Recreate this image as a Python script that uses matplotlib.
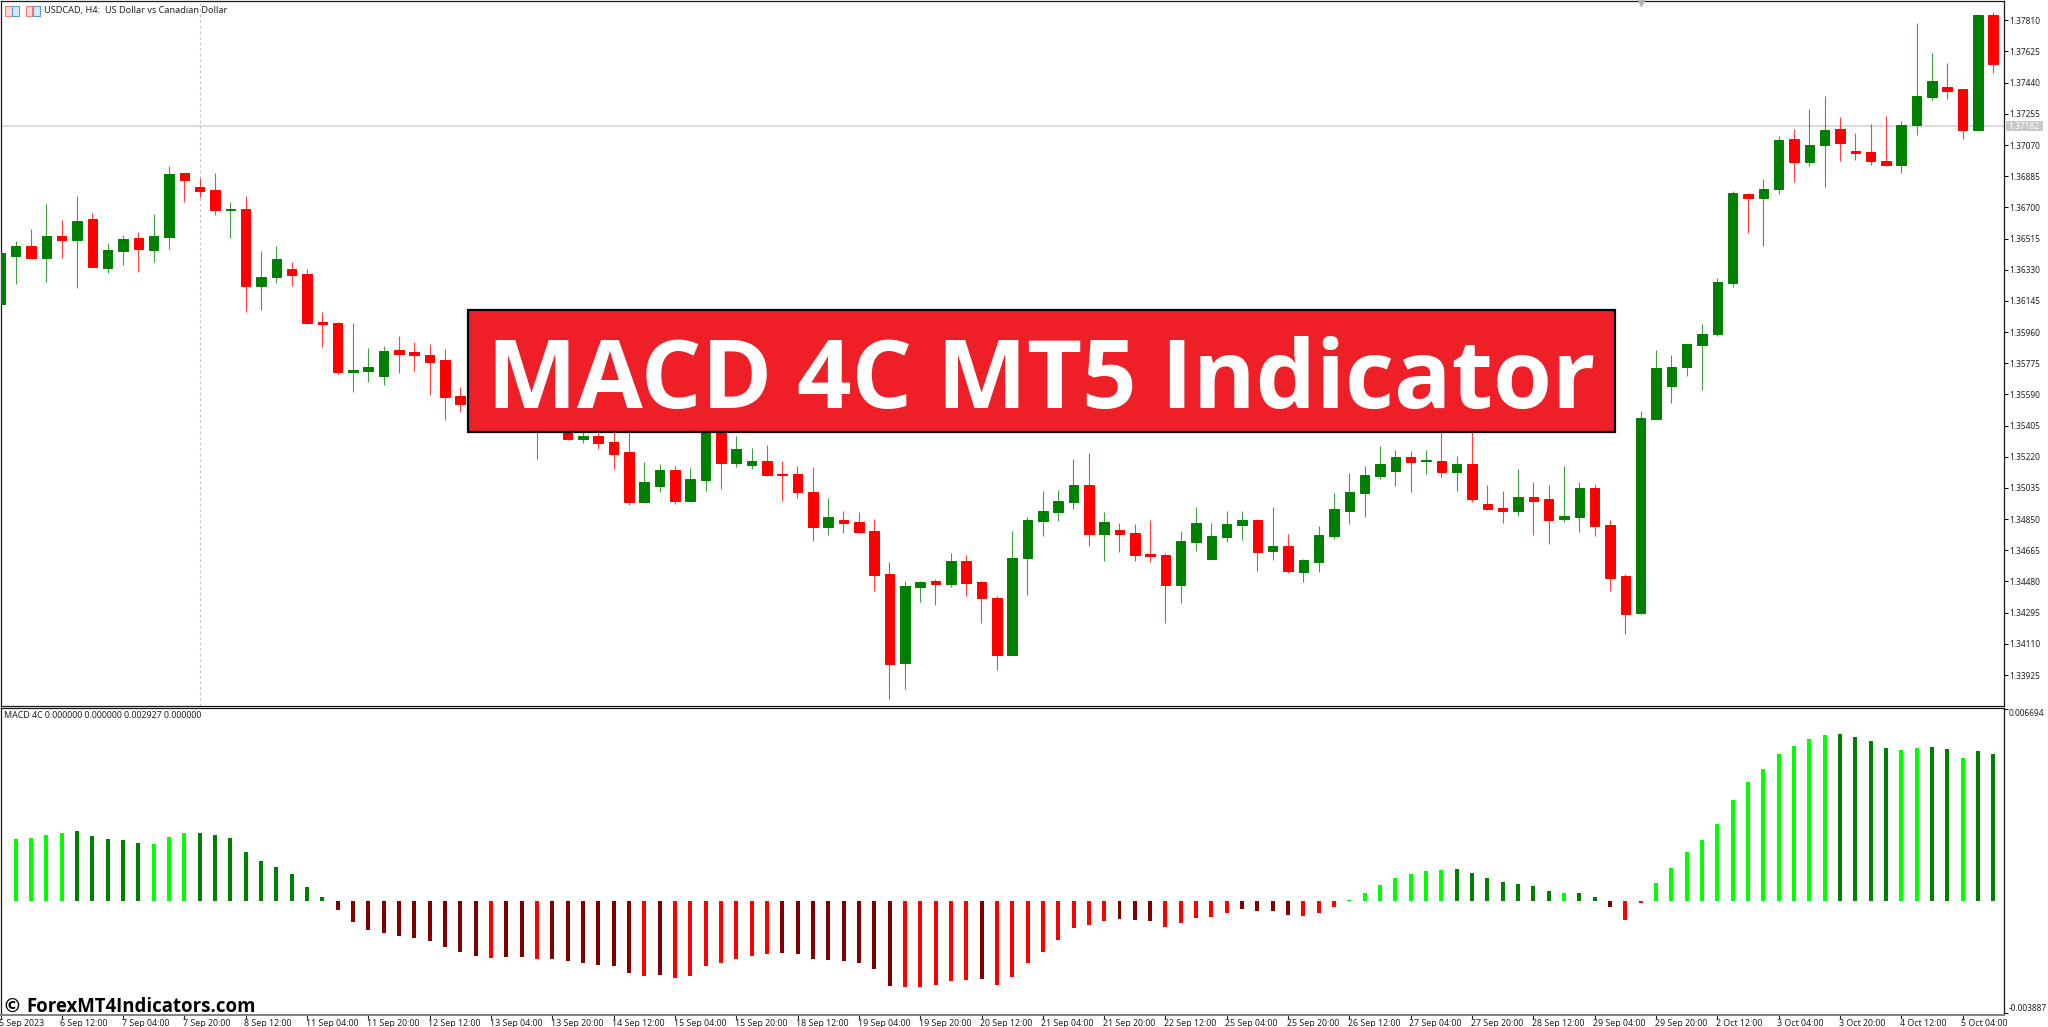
import matplotlib
matplotlib.use("Agg")
import matplotlib.pyplot as plt
from matplotlib.patches import Rectangle

W, H = 2048, 1027

# candles (31-36 sit behind the banner, so those are guesses)
opens = [1.36125, 1.36413, 1.36469, 1.36401, 1.36532, 1.36508, 1.36629, 1.36340, 1.36441, 1.36520,
         1.36447, 1.36526, 1.36902, 1.36823, 1.36805, 1.36686, 1.36690, 1.36232, 1.36287, 1.36332,
         1.36305, 1.36020, 1.36014, 1.35725, 1.35731, 1.35698, 1.35855, 1.35840, 1.35822, 1.35792,
         1.35582, 1.35527, 1.35409, 1.35498, 1.35468, 1.35450, 1.35379, 1.35409, 1.35327, 1.35343,
         1.35310, 1.35247, 1.34953, 1.35045, 1.35140, 1.34959, 1.35084, 1.35415, 1.35185, 1.35173,
         1.35195, 1.35118, 1.35116, 1.35009, 1.34805, 1.34845, 1.34833, 1.34781, 1.34524, 1.33998,
         1.34449, 1.34485, 1.34463, 1.34600, 1.34475, 1.34384, 1.34042, 1.34618, 1.34839, 1.34894,
         1.34952, 1.35054, 1.34764, 1.34787, 1.34770, 1.34645, 1.34639, 1.34457, 1.34713, 1.34615,
         1.34746, 1.34815, 1.34845, 1.34661, 1.34691, 1.34536, 1.34596, 1.34752, 1.34901, 1.35005,
         1.35106, 1.35134, 1.35219, 1.35197, 1.35195, 1.35128, 1.35179, 1.34940, 1.34918, 1.34900,
         1.34980, 1.34969, 1.34849, 1.34861, 1.35036, 1.34815, 1.34513, 1.34293, 1.35447, 1.35641,
         1.35754, 1.35886, 1.35949, 1.36253, 1.36781, 1.36756, 1.36807, 1.37106, 1.36971, 1.37068,
         1.37163, 1.37033, 1.37027, 1.36975, 1.36953, 1.37187, 1.37357, 1.37412, 1.37402, 1.37159,
         1.37840]
highs = [1.36427, 1.36499, 1.36572, 1.36720, 1.36625, 1.36766, 1.36668, 1.36487, 1.36538, 1.36554,
         1.36659, 1.36947, 1.36902, 1.36874, 1.36902, 1.36732, 1.36766, 1.36441, 1.36471, 1.36374,
         1.36332, 1.36077, 1.36020, 1.36014, 1.35865, 1.35877, 1.35935, 1.35901, 1.35889, 1.35861,
         1.35634, 1.35587, 1.35557, 1.35545, 1.35527, 1.35498, 1.35486, 1.35450, 1.35391, 1.35409,
         1.35391, 1.35409, 1.35189, 1.35179, 1.35167, 1.35152, 1.35486, 1.35468, 1.35343, 1.35270,
         1.35288, 1.35195, 1.35167, 1.35158, 1.34975, 1.34897, 1.34891, 1.34851, 1.34594, 1.34485,
         1.34485, 1.34497, 1.34651, 1.34635, 1.34481, 1.34394, 1.34781, 1.34861, 1.35015, 1.35021,
         1.35207, 1.35242, 1.34891, 1.34827, 1.34821, 1.34845, 1.34649, 1.34781, 1.34924, 1.34827,
         1.34900, 1.34900, 1.34851, 1.34924, 1.34764, 1.34616, 1.34809, 1.35003, 1.35124, 1.35163,
         1.35282, 1.35258, 1.35253, 1.35258, 1.35438, 1.35225, 1.35409, 1.35054, 1.35015, 1.35146,
         1.35072, 1.35054, 1.35167, 1.35072, 1.35058, 1.34845, 1.34524, 1.35492, 1.35855, 1.35822,
         1.35889, 1.36008, 1.36281, 1.36799, 1.36781, 1.36868, 1.37124, 1.37163, 1.37284, 1.37361,
         1.37236, 1.37141, 1.37197, 1.37242, 1.37214, 1.37794, 1.37614, 1.37555, 1.37402, 1.37846,
         1.37858]
lows = [1.36125, 1.36247, 1.36401, 1.36259, 1.36401, 1.36222, 1.36344, 1.36312, 1.36356, 1.36316,
        1.36378, 1.36453, 1.36732, 1.36760, 1.36657, 1.36520, 1.36077, 1.36089, 1.36253, 1.36235,
        1.36010, 1.35871, 1.35713, 1.35604, 1.35664, 1.35646, 1.35718, 1.35731, 1.35588, 1.35436,
        1.35486, 1.35379, 1.35385, 1.35373, 1.35373, 1.35209, 1.35373, 1.35318, 1.35304, 1.35266,
        1.35146, 1.34936, 1.34953, 1.35009, 1.34942, 1.34953, 1.35015, 1.35027, 1.35158, 1.35146,
        1.35106, 1.34959, 1.34975, 1.34720, 1.34754, 1.34766, 1.34766, 1.34424, 1.33783, 1.33844,
        1.34360, 1.34339, 1.34449, 1.34394, 1.34235, 1.33957, 1.34042, 1.34400, 1.34752, 1.34839,
        1.34912, 1.34691, 1.34603, 1.34655, 1.34600, 1.34594, 1.34235, 1.34354, 1.34661, 1.34615,
        1.34713, 1.34724, 1.34542, 1.34610, 1.34530, 1.34474, 1.34536, 1.34730, 1.34821, 1.34861,
        1.35088, 1.35048, 1.35009, 1.35118, 1.35100, 1.35015, 1.34953, 1.34906, 1.34827, 1.34867,
        1.34758, 1.34702, 1.34833, 1.34775, 1.34752, 1.34424, 1.34168, 1.34287, 1.35447, 1.35539,
        1.35702, 1.35618, 1.35937, 1.36226, 1.36550, 1.36471, 1.36778, 1.36850, 1.36947, 1.36823,
        1.36977, 1.36981, 1.36953, 1.36944, 1.36902, 1.37129, 1.37335, 1.37341, 1.37108, 1.37153,
        1.37499]
closes = [1.36427, 1.36469, 1.36401, 1.36532, 1.36508, 1.36617, 1.36344, 1.36447, 1.36514, 1.36453,
          1.36532, 1.36900, 1.36862, 1.36799, 1.36686, 1.36690, 1.36232, 1.36287, 1.36392, 1.36299,
          1.36016, 1.36008, 1.35725, 1.35735, 1.35753, 1.35849, 1.35828, 1.35822, 1.35782, 1.35576,
          1.35531, 1.35409, 1.35498, 1.35391, 1.35385, 1.35379, 1.35438, 1.35327, 1.35343, 1.35304,
          1.35237, 1.34953, 1.35070, 1.35140, 1.34959, 1.35088, 1.35438, 1.35185, 1.35264, 1.35195,
          1.35112, 1.35112, 1.35009, 1.34805, 1.34861, 1.34827, 1.34775, 1.34520, 1.33992, 1.34452,
          1.34479, 1.34465, 1.34600, 1.34471, 1.34384, 1.34042, 1.34621, 1.34845, 1.34900, 1.34958,
          1.35054, 1.34764, 1.34833, 1.34764, 1.34639, 1.34633, 1.34457, 1.34718, 1.34827, 1.34752,
          1.34821, 1.34845, 1.34655, 1.34691, 1.34542, 1.34605, 1.34758, 1.34912, 1.35009, 1.35110,
          1.35179, 1.35219, 1.35191, 1.35201, 1.35128, 1.35179, 1.34969, 1.34912, 1.34900, 1.34980,
          1.34958, 1.34845, 1.34867, 1.35036, 1.34809, 1.34502, 1.34287, 1.35452, 1.35747, 1.35753,
          1.35889, 1.35947, 1.36259, 1.36784, 1.36756, 1.36809, 1.37100, 1.36971, 1.37072, 1.37157,
          1.37084, 1.37021, 1.36977, 1.36953, 1.37191, 1.37361, 1.37448, 1.37392, 1.37159, 1.37840,
          1.37553]

macd = [0.00202, 0.00216, 0.00220, 0.00230, 0.00237, 0.00243, 0.00227, 0.00216, 0.00213, 0.00202,
        0.00199, 0.00223, 0.00237, 0.00239, 0.00230, 0.00220, 0.00172, 0.00140, 0.00119, 0.00094,
        0.00050, 0.00016, -0.00031, -0.00072, -0.00098, -0.00111, -0.00121, -0.00128, -0.00138, -0.00158,
        -0.00175, -0.00188, -0.00195, -0.00194, -0.00194, -0.00201, -0.00198, -0.00208, -0.00215, -0.00219,
        -0.00225, -0.00249, -0.00259, -0.00256, -0.00264, -0.00259, -0.00225, -0.00215, -0.00199, -0.00188,
        -0.00182, -0.00179, -0.00182, -0.00198, -0.00202, -0.00208, -0.00215, -0.00235, -0.00295, -0.00298,
        -0.00298, -0.00291, -0.00275, -0.00272, -0.00268, -0.00291, -0.00261, -0.00215, -0.00176, -0.00135,
        -0.00093, -0.00083, -0.00069, -0.00062, -0.00066, -0.00069, -0.00087, -0.00076, -0.00059, -0.00053,
        -0.00039, -0.00027, -0.00032, -0.00032, -0.00046, -0.00050, -0.00039, -0.00020, 0.00006, 0.00030,
        0.00057, 0.00080, 0.00094, 0.00106, 0.00110, 0.00113, 0.00097, 0.00081, 0.00067, 0.00061,
        0.00054, 0.00037, 0.00028, 0.00031, 0.00017, -0.00020, -0.00066, -0.00005, 0.00064, 0.00117,
        0.00170, 0.00213, 0.00269, 0.00353, 0.00413, 0.00459, 0.00512, 0.00539, 0.00562, 0.00578,
        0.00582, 0.00572, 0.00555, 0.00532, 0.00525, 0.00532, 0.00535, 0.00528, 0.00498, 0.00522,
        0.00512]
# L lime, G green, R red, D dark red
macd_state = ("LLLLLGGGGGLLLGGGGGGGGG" "DDDDDDDDDD" "R" "DD" "R" "DDDDDD" "R" "D" "R" "RRRRRR"
              "DDDDDDDD" "RRRRR" "D" "RRRRRRRR" "DDD" "RRRRR" "DDDD" "RRR" "LLLLLLL" "GGGGGGG"
              "L" "GG" "D" "RR" "LLLLLLLLLLLL" "GGGG" "LL" "GG" "L" "GG")

price_ticks = [1.37810, 1.37625, 1.37440, 1.37255, 1.37070, 1.36885, 1.36700, 1.36515, 1.36330, 1.36145,
               1.35960, 1.35775, 1.35590, 1.35405, 1.35220, 1.35035, 1.34850, 1.34665, 1.34480, 1.34295,
               1.34110, 1.33925]
time_labels = ["5 Sep 2023", "6 Sep 12:00", "7 Sep 04:00", "7 Sep 20:00", "8 Sep 12:00", "11 Sep 04:00",
               "11 Sep 20:00", "12 Sep 12:00", "13 Sep 04:00", "13 Sep 20:00", "14 Sep 12:00", "15 Sep 04:00",
               "15 Sep 20:00", "18 Sep 12:00", "19 Sep 04:00", "19 Sep 20:00", "20 Sep 12:00", "21 Sep 04:00",
               "21 Sep 20:00", "22 Sep 12:00", "25 Sep 04:00", "25 Sep 20:00", "26 Sep 12:00", "27 Sep 04:00",
               "27 Sep 20:00", "28 Sep 12:00", "29 Sep 04:00", "29 Sep 20:00", "2 Oct 12:00", "3 Oct 04:00",
               "3 Oct 20:00", "4 Oct 12:00", "5 Oct 04:00"]
last_price = 1.37182
cross_bar = 13
nav_bar = 107
macd_max, macd_min = 0.006694, -0.003887

plt.rcParams["font.family"] = ["Noto Sans", "DejaVu Sans"]


def pane(left, top, right, bottom):                # pixel box -> axes
    return fig.add_axes([left / W, 1 - bottom / H, (right - left) / W, (bottom - top) / H])


fig = plt.figure(figsize=(W / 100, H / 100), dpi=100, facecolor="white")
ax = pane(0.5, 0.5, 2003.5, 706)
ax2 = pane(0.5, 707.5, 2003.5, 1014.5)

x = list(range(len(opens)))
xlim = (0.011, 130.67)

# price pane
ax.axhline(last_price, color="#dcdcdc", lw=1.5, zorder=1)
ax.axvline(cross_bar, color="#c4c4c4", lw=0.8, ls=(0, (2.5, 2.5)), zorder=1)
colors = ["#008000" if c >= o else "#FF0000" for o, c in zip(opens, closes)]
ax.vlines(x, lows, highs, colors=colors, lw=0.8, alpha=0.75, zorder=2)
ax.bar(x, [abs(c - o) for o, c in zip(opens, closes)], bottom=[min(o, c) for o, c in zip(opens, closes)],
       width=0.62, color=colors, edgecolor=colors, lw=0.7, zorder=3)
ax.plot([nav_bar], [1], marker="v", ms=7, color="#b4b4b4", transform=ax.get_xaxis_transform(), clip_on=False, zorder=4)
ax.set_xlim(*xlim)
ax.set_ylim(1.379305 - 5.934e-5 * 706, 1.379305 - 5.934e-5 * 0.5)
ax.set_xticks([])
ax.yaxis.tick_right()
ax.set_yticks(price_ticks, [f"{p:.5f}" for p in price_ticks])
ax.tick_params(axis="y", length=3, width=0.7, pad=1, labelsize=6, labelcolor="#222222")

# macd pane
state_colors = {"L": "#00FF00", "G": "#008000", "R": "#FF0000", "D": "#800000"}
ax2.bar(x, macd, width=0.26, color=[state_colors[s] for s in macd_state], lw=0)
ax2.set_xlim(*xlim)
ax2.set_ylim(macd_min - 1 / 28825, macd_max + 1 / 28825)
ax2.yaxis.tick_right()
ax2.set_yticks([macd_max, macd_min], [f"{macd_max:.6f}", f"{macd_min:.6f}"])
ax2.tick_params(axis="y", length=3, width=0.7, pad=1, labelsize=6, labelcolor="#222222")
ax2.get_yticklabels()[0].set_va("top")
ax2.get_yticklabels()[1].set_va("bottom")
ax2.set_xticks(x[::4], [""] * len(x[::4]))
ax2.tick_params(axis="x", length=3, width=0.8, color="#222222")
for i, lab in zip(x[::4], time_labels):
    # labels start at their tick and run off the bottom like in MT5
    ax2.annotate(lab, (i, 0), xycoords=ax2.get_xaxis_transform(), xytext=(-1, -3.6), textcoords="offset points",
                 ha="left", va="top", fontsize=6.4, color="#222222", annotation_clip=False)

for a in (ax, ax2):
    for s in a.spines.values():
        s.set_linewidth(0.9)
        s.set_color("#1a1a1a")
ax2.spines["bottom"].set_color("#808080")
ax2.spines["bottom"].set_linewidth(1.4)


def figtext(px, py, s, **kw):
    fig.text(px / W, 1 - py / H, s, **kw)


# header, icons and pane captions
for left, c1, c2 in [(5, "#f08080", "#5b9bd5"), (25.5, "#f08080", "#5b9bd5")]:
    fig.add_artist(Rectangle((left / W, 1 - 16 / H), 6.5 / W, 10 / H, fc="#fbdada", ec=c1, lw=0.8, transform=fig.transFigure))
    fig.add_artist(Rectangle(((left + 7) / W, 1 - 16 / H), 7 / W, 10 / H, fc="#d6e8f7", ec=c2, lw=0.8, transform=fig.transFigure))
figtext(44.5, 11, "USDCAD, H4:  US Dollar vs Canadian Dollar", fontsize=6.6, color="#222222", va="center", ha="left")
figtext(3.5, 716, "MACD 4C 0.000000 0.000000 0.002927 0.000000", fontsize=6.4, color="#222222", va="center", ha="left")

# current price tag
fig.add_artist(Rectangle((2005.5 / W, 1 - 131 / H), 37.5 / W, 10 / H, fc="#c8c8c8", ec="none", transform=fig.transFigure))
figtext(2024, 126, f"{last_price:.5f}", fontsize=6, color="white", va="center", ha="center")

# title banner
fig.add_artist(Rectangle((468 / W, 1 - 432 / H), 1147 / W, 122.5 / H, fc="#EE1F27", ec="black", lw=1.6,
                         transform=fig.transFigure, zorder=10))
figtext(1041, 408.3, "MACD 4C MT5 Indicator", fontsize=68.7, fontweight="bold", family="Open Sans",
        color="white", ha="center", va="baseline", zorder=11)

# watermark
figtext(2.5, 1012.5, "\u00a9", fontsize=13.5, fontweight="bold", family="DejaVu Sans",
        color="black", ha="left", va="baseline", zorder=11)
figtext(26.5, 1012.3, "ForexMT4Indicators.com", fontsize=13.4, fontweight="bold", family="Open Sans",
        color="black", ha="left", va="baseline", zorder=11)

fig.savefig("out.png", dpi=100)
